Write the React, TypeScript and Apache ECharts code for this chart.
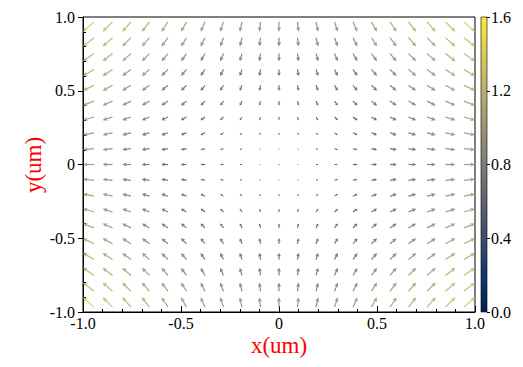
import React, { useEffect, useRef } from "react";
import * as echarts from "echarts";

// Grid positions (um)
const xGrid = [-1.0, -0.9, -0.8, -0.7, -0.6, -0.5, -0.4, -0.3, -0.2, -0.1, 0.0, 0.1, 0.2, 0.3, 0.4, 0.5, 0.6, 0.7, 0.8, 0.9, 1.0];
const yGrid = [-1.0, -0.9, -0.8, -0.7, -0.6, -0.5, -0.4, -0.3, -0.2, -0.1, 0.0, 0.1, 0.2, 0.3, 0.4, 0.5, 0.6, 0.7, 0.8, 0.9, 1.0];
// Horizontal component of the field for each column (read from arrows)
const uByColumn = [-1.0, -0.9, -0.8, -0.7, -0.6, -0.5, -0.4, -0.3, -0.2, -0.1, 0.0, 0.1, 0.2, 0.3, 0.4, 0.5, 0.6, 0.7, 0.8, 0.9, 1.0];
// Vertical component of the field for each row (row order follows yGrid)
const vByRow = [1.0, 0.9, 0.8, 0.7, 0.6, 0.5, 0.4, 0.3, 0.2, 0.1, 0.0, -0.1, -0.2, -0.3, -0.4, -0.5, -0.6, -0.7, -0.8, -0.9, -1.0];

const axisTicks = [-1.0, -0.5, 0, 0.5, 1.0];
const cbarTicks = [0.0, 0.4, 0.8, 1.2, 1.6];

const CMAP: [number, string][] = [
  [0.0, "#00224e"],
  [0.125, "#123570"],
  [0.25, "#3e4c6c"],
  [0.375, "#5f636e"],
  [0.5, "#7c7b78"],
  [0.625, "#9b9477"],
  [0.75, "#bbaf71"],
  [0.875, "#dccb5e"],
  [1.0, "#fee838"],
];

function hexToRgb(h: string) {
  const n = parseInt(h.slice(1), 16);
  return [(n >> 16) & 255, (n >> 8) & 255, n & 255];
}
function cmap(t: number) {
  t = Math.max(0, Math.min(1, t));
  for (let i = 0; i < CMAP.length - 1; i++) {
    const [a, ca] = CMAP[i];
    const [b, cb] = CMAP[i + 1];
    if (t <= b) {
      const f = (t - a) / (b - a);
      const A = hexToRgb(ca), B = hexToRgb(cb);
      const c = A.map((v, k) => Math.round(v + (B[k] - v) * f));
      return `rgb(${c[0]},${c[1]},${c[2]})`;
    }
  }
  return CMAP[CMAP.length - 1][1];
}

const SERIF = "'Liberation Serif', 'Times New Roman', 'DejaVu Serif', serif";
const PX_PER_UNIT = 11;

export default function App() {
  const ref = useRef<HTMLDivElement>(null);
  useEffect(() => {
    if (!ref.current) return;
    const chart = echarts.init(ref.current, null, { renderer: "svg" });
    const cMin = cbarTicks[0];
    const cMax = cbarTicks[cbarTicks.length - 1];

    const arrows: number[][] = [];
    yGrid.forEach((y, j) => {
      xGrid.forEach((x, i) => {
        arrows.push([x, y, uByColumn[i], vByRow[j]]);
      });
    });

    const fmt = (v: number) => (Math.abs(v) < 1e-9 ? "0" : v.toFixed(1));
    const tMin = axisTicks[0];
    const tMax = axisTicks[axisTicks.length - 1];

    const option: any = {
      animation: false,
      textStyle: { fontFamily: SERIF },
      grid: [
        { left: 83, top: 17, width: 392, height: 295, show: true, borderColor: "#000", borderWidth: 1, backgroundColor: "transparent" },
        { left: 481, top: 17, width: 6, height: 295 },
      ],
      xAxis: [
        {
          gridIndex: 0, type: "value", min: tMin, max: tMax, interval: 0.5,
          axisLine: { show: true, onZero: false, lineStyle: { color: "#000", width: 1 } },
          axisTick: { show: true, inside: true, length: 6, lineStyle: { color: "#000" } },
          minorTick: { show: true, splitNumber: 5, length: 3, lineStyle: { color: "#000" } },
          splitLine: { show: false },
          axisLabel: { formatter: fmt, color: "#000", fontFamily: SERIF, fontSize: 16, margin: 3, showMinLabel: true, showMaxLabel: true },
        },
        { gridIndex: 1, type: "value", min: 0, max: 1, show: false },
      ],
      yAxis: [
        {
          gridIndex: 0, type: "value", min: tMin, max: tMax, interval: 0.5, position: "left",
          axisLine: { show: true, onZero: false, lineStyle: { color: "#000", width: 1 } },
          axisTick: { show: true, inside: false, length: 5, lineStyle: { color: "#000" } },
          splitLine: { show: false },
          axisLabel: { formatter: fmt, color: "#000", fontFamily: SERIF, fontSize: 16, margin: 8 },
        },
        {
          gridIndex: 0, type: "value", min: tMin, max: tMax, interval: 0.5, position: "left",
          axisLine: { show: false, onZero: false },
          axisTick: { show: false, inside: true },
          minorTick: { show: true, splitNumber: 5, length: 3, lineStyle: { color: "#000" } },
          splitLine: { show: false },
          axisLabel: { show: false },
        },
        {
          gridIndex: 1, type: "value", min: cMin, max: cMax, interval: 0.4, position: "right",
          axisLine: { show: false, onZero: false },
          axisTick: { show: true, inside: false, length: 3, lineStyle: { color: "#000" } },
          splitLine: { show: false },
          axisLabel: { formatter: (v: number) => v.toFixed(1), color: "#000", fontFamily: SERIF, fontSize: 16, margin: 4 },
        },
      ],
      series: [
        {
          type: "custom",
          xAxisIndex: 0,
          yAxisIndex: 0,
          clip: true,
          data: arrows,
          renderItem: (params: any, api: any) => {
            const x = api.value(0), y = api.value(1), u = api.value(2), v = api.value(3);
            const tip = api.coord([x, y]);
            const mag = Math.hypot(u, v);
            const color = cmap(mag / cMax);
            const L = mag * PX_PER_UNIT;
            if (L < 0.5) {
              return { type: "circle", shape: { cx: tip[0], cy: tip[1], r: 0.7 }, style: { fill: color, opacity: 0.5 } };
            }
            const dx = u / mag, dy = -v / mag;
            const nx = -dy, ny = dx;
            const headLen = Math.min(4.5, L * 0.5);
            const hw = Math.min(2.1, L * 0.3);
            const bx = tip[0] - dx * headLen * 0.8, by = tip[1] - dy * headLen * 0.8;
            const hx = tip[0] - dx * headLen, hy = tip[1] - dy * headLen;
            const tx = tip[0] - dx * L, ty = tip[1] - dy * L;
            const lw = Math.min(1.2, 0.6 + L * 0.1);
            return {
              type: "group",
              children: [
                { type: "line", shape: { x1: tx, y1: ty, x2: bx, y2: by }, style: { stroke: color, lineWidth: lw, opacity: 0.9 } },
                {
                  type: "polygon",
                  shape: { points: [[tip[0], tip[1]], [hx + nx * hw, hy + ny * hw], [bx, by], [hx - nx * hw, hy - ny * hw]] },
                  style: { fill: color, opacity: 0.9 },
                },
              ],
            };
          },
        },
        {
          type: "custom",
          xAxisIndex: 1,
          yAxisIndex: 2,
          clip: false,
          data: [[0, cMin, 1, cMax]],
          renderItem: (params: any, api: any) => {
            const p0 = api.coord([api.value(0), api.value(1)]);
            const p1 = api.coord([api.value(2), api.value(3)]);
            const stops = CMAP.map(([o, c]) => ({ offset: o, color: c }));
            return {
              type: "rect",
              shape: { x: p0[0], y: p1[1], width: p1[0] - p0[0], height: p0[1] - p1[1] },
              style: {
                fill: new echarts.graphic.LinearGradient(0, 1, 0, 0, stops),
                stroke: "#000",
                lineWidth: 0.6,
              },
            };
          },
        },
      ],
      graphic: [
        {
          type: "text", x: 279, y: 345,
          style: { text: "x(um)", fill: "#ff0000", fontFamily: SERIF, fontSize: 23, textAlign: "center", textVerticalAlign: "middle" },
        },
        {
          type: "text", x: 33, y: 165, rotation: Math.PI / 2,
          style: { text: "y(um)", fill: "#ff0000", fontFamily: SERIF, fontSize: 23, textAlign: "center", textVerticalAlign: "middle" },
        },
      ],
    };
    chart.setOption(option);
    return () => chart.dispose();
  }, []);
  return <div ref={ref} style={{ position: "fixed", left: 0, top: 0, width: 523, height: 367, background: "#fff" }} />;
}
